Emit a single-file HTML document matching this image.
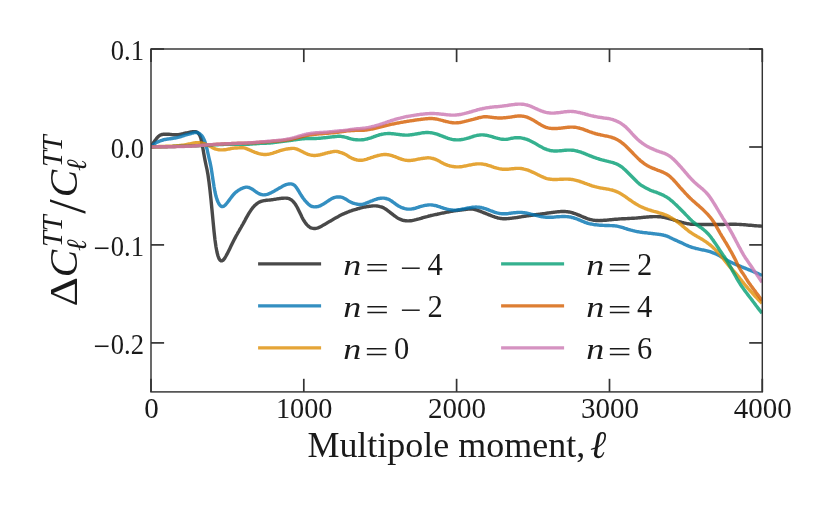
<!DOCTYPE html>
<html lang="en"><head><meta charset="utf-8"><title>Plot</title>
<style>
html,body{margin:0;padding:0;background:#fff;}
svg{display:block;}
text{font-family:"Liberation Serif","DejaVu Serif",serif;fill:#1a1a1a;}
.it{font-style:italic;}
</style></head><body>
<svg width="830" height="510" viewBox="0 0 830 510">
<rect x="0" y="0" width="830" height="510" fill="#ffffff"/>
<g stroke="#333333" stroke-width="1.7" fill="none" stroke-linecap="butt">
<line x1="151.0" y1="391.9" x2="151.0" y2="378.79999999999995"/>
<line x1="151.0" y1="49.0" x2="151.0" y2="62.1"/>
<line x1="303.8" y1="391.9" x2="303.8" y2="378.79999999999995"/>
<line x1="303.8" y1="49.0" x2="303.8" y2="62.1"/>
<line x1="456.6" y1="391.9" x2="456.6" y2="378.79999999999995"/>
<line x1="456.6" y1="49.0" x2="456.6" y2="62.1"/>
<line x1="609.5" y1="391.9" x2="609.5" y2="378.79999999999995"/>
<line x1="609.5" y1="49.0" x2="609.5" y2="62.1"/>
<line x1="762.3" y1="391.9" x2="762.3" y2="378.79999999999995"/>
<line x1="762.3" y1="49.0" x2="762.3" y2="62.1"/>
<line x1="151.0" y1="49.0" x2="164.1" y2="49.0"/>
<line x1="762.3" y1="49.0" x2="749.1999999999999" y2="49.0"/>
<line x1="151.0" y1="147.0" x2="164.1" y2="147.0"/>
<line x1="762.3" y1="147.0" x2="749.1999999999999" y2="147.0"/>
<line x1="151.0" y1="244.9" x2="164.1" y2="244.9"/>
<line x1="762.3" y1="244.9" x2="749.1999999999999" y2="244.9"/>
<line x1="151.0" y1="342.9" x2="164.1" y2="342.9"/>
<line x1="762.3" y1="342.9" x2="749.1999999999999" y2="342.9"/>
</g>
<defs><clipPath id="ax"><rect x="151.0" y="49.0" width="611.3" height="342.9"/></clipPath></defs>
<g clip-path="url(#ax)" fill="none" stroke-opacity="0.8" stroke-linejoin="round" stroke-linecap="butt">
<path d="M151.0,146.9 L152.0,145.0 L153.0,143.4 L154.0,141.9 L155.0,140.5 L156.0,139.2 L157.0,137.9 L158.0,136.8 L159.0,135.9 L160.0,135.3 L161.0,134.8 L162.0,134.5 L163.0,134.3 L164.0,134.2 L165.0,134.2 L166.0,134.2 L167.0,134.2 L168.0,134.3 L169.0,134.3 L170.0,134.4 L171.0,134.5 L172.0,134.6 L173.0,134.7 L174.0,134.8 L175.0,134.8 L176.0,134.8 L177.0,134.7 L178.0,134.6 L179.0,134.5 L180.0,134.3 L181.0,134.1 L182.0,133.9 L183.0,133.7 L184.0,133.4 L185.0,133.2 L186.0,133.0 L187.0,132.8 L188.0,132.6 L189.0,132.4 L190.0,132.2 L191.0,132.0 L192.0,131.8 L193.0,131.7 L194.0,131.6 L195.0,131.6 L196.0,131.7 L197.0,132.2 L198.0,133.0 L199.0,134.2 L200.0,135.9 L201.0,138.8 L202.0,143.4 L203.0,149.0 L204.0,154.7 L205.0,160.1 L206.0,165.0 L207.0,169.5 L208.0,174.9 L209.0,182.0 L210.0,190.4 L211.0,199.8 L212.0,210.0 L213.0,220.7 L214.0,231.0 L215.0,240.0 L216.0,247.0 L217.0,252.3 L218.0,256.0 L219.0,258.6 L220.0,260.2 L221.0,260.9 L222.0,260.9 L223.0,260.3 L224.0,259.2 L225.0,257.7 L226.0,256.0 L227.0,254.2 L228.0,252.2 L229.0,250.2 L230.0,248.2 L231.0,246.1 L232.0,244.0 L233.0,242.0 L234.0,240.0 L235.0,238.1 L236.0,236.2 L237.0,234.5 L238.0,232.7 L239.0,231.0 L240.0,229.2 L241.0,227.5 L242.0,225.7 L243.0,224.0 L244.0,222.1 L245.0,220.3 L246.0,218.4 L247.0,216.6 L248.0,214.9 L249.0,213.2 L250.0,211.6 L251.0,210.1 L252.0,208.7 L253.0,207.4 L254.0,206.3 L255.0,205.3 L256.0,204.4 L257.0,203.6 L258.0,202.9 L259.0,202.3 L260.0,201.8 L261.0,201.4 L262.0,201.1 L263.0,200.8 L264.0,200.6 L265.0,200.5 L266.0,200.3 L267.0,200.2 L268.0,200.1 L269.0,200.1 L270.0,200.0 L271.0,199.9 L272.0,199.7 L273.0,199.6 L274.0,199.4 L275.0,199.3 L276.0,199.1 L277.0,198.9 L278.0,198.8 L279.0,198.6 L280.0,198.5 L281.0,198.4 L282.0,198.2 L283.0,198.2 L284.0,198.1 L285.0,198.1 L286.0,198.1 L287.0,198.2 L288.0,198.4 L289.0,198.7 L290.0,199.1 L291.0,199.7 L292.0,200.4 L293.0,201.4 L294.0,202.5 L295.0,203.8 L296.0,205.3 L297.0,207.0 L298.0,208.9 L299.0,211.0 L300.0,213.1 L301.0,215.1 L302.0,217.2 L303.0,219.1 L304.0,220.8 L305.0,222.3 L306.0,223.7 L307.0,224.9 L308.0,225.9 L309.0,226.7 L310.0,227.4 L311.0,227.9 L312.0,228.2 L313.0,228.4 L314.0,228.5 L315.0,228.5 L316.0,228.3 L317.0,228.1 L318.0,227.8 L319.0,227.4 L320.0,226.9 L321.0,226.4 L322.0,225.9 L323.0,225.3 L324.0,224.8 L325.0,224.2 L326.0,223.6 L327.0,223.0 L328.0,222.4 L329.0,221.8 L330.0,221.3 L331.0,220.7 L332.0,220.1 L333.0,219.5 L334.0,218.9 L335.0,218.3 L336.0,217.8 L337.0,217.2 L338.0,216.7 L339.0,216.1 L340.0,215.6 L341.0,215.1 L342.0,214.6 L343.0,214.1 L344.0,213.7 L345.0,213.2 L346.0,212.8 L347.0,212.4 L348.0,212.0 L349.0,211.6 L350.0,211.2 L351.0,210.9 L352.0,210.5 L353.0,210.2 L354.0,209.9 L355.0,209.6 L356.0,209.3 L357.0,209.0 L358.0,208.7 L359.0,208.5 L360.0,208.2 L361.0,207.9 L362.0,207.7 L363.0,207.4 L364.0,207.2 L365.0,207.0 L366.0,206.8 L367.0,206.6 L368.0,206.5 L369.0,206.3 L370.0,206.2 L371.0,206.1 L372.0,206.0 L373.0,205.9 L374.0,205.9 L375.0,205.9 L376.0,205.9 L377.0,206.0 L378.0,206.1 L379.0,206.3 L380.0,206.6 L381.0,206.8 L382.0,207.2 L383.0,207.6 L384.0,208.1 L385.0,208.7 L386.0,209.3 L387.0,210.0 L388.0,210.8 L389.0,211.5 L390.0,212.3 L391.0,213.1 L392.0,213.9 L393.0,214.7 L394.0,215.5 L395.0,216.2 L396.0,216.9 L397.0,217.6 L398.0,218.2 L399.0,218.7 L400.0,219.2 L401.0,219.6 L402.0,220.0 L403.0,220.3 L404.0,220.5 L405.0,220.7 L406.0,220.8 L407.0,220.9 L408.0,220.9 L409.0,220.9 L410.0,220.8 L411.0,220.7 L412.0,220.6 L413.0,220.4 L414.0,220.2 L415.0,219.9 L416.0,219.7 L417.0,219.4 L418.0,219.1 L419.0,218.9 L420.0,218.6 L421.0,218.3 L422.0,218.0 L423.0,217.7 L424.0,217.4 L425.0,217.1 L426.0,216.8 L427.0,216.6 L428.0,216.3 L429.0,216.0 L430.0,215.8 L431.0,215.5 L432.0,215.3 L433.0,215.1 L434.0,214.9 L435.0,214.7 L436.0,214.5 L437.0,214.3 L438.0,214.0 L439.0,213.8 L440.0,213.6 L441.0,213.4 L442.0,213.2 L443.0,213.0 L444.0,212.8 L445.0,212.6 L446.0,212.4 L447.0,212.2 L448.0,212.0 L449.0,211.8 L450.0,211.6 L451.0,211.4 L452.0,211.2 L453.0,211.1 L454.0,210.9 L455.0,210.7 L456.0,210.6 L457.0,210.5 L458.0,210.3 L459.0,210.2 L460.0,210.1 L461.0,210.0 L462.0,209.8 L463.0,209.7 L464.0,209.6 L465.0,209.5 L466.0,209.3 L467.0,209.2 L468.0,209.1 L469.0,209.0 L470.0,209.0 L471.0,209.0 L472.0,209.0 L473.0,209.1 L474.0,209.3 L475.0,209.5 L476.0,209.8 L477.0,210.1 L478.0,210.5 L479.0,210.8 L480.0,211.2 L481.0,211.6 L482.0,212.0 L483.0,212.4 L484.0,212.8 L485.0,213.2 L486.0,213.6 L487.0,214.0 L488.0,214.4 L489.0,214.8 L490.0,215.2 L491.0,215.6 L492.0,216.0 L493.0,216.4 L494.0,216.7 L495.0,217.1 L496.0,217.4 L497.0,217.7 L498.0,218.0 L499.0,218.2 L500.0,218.4 L501.0,218.5 L502.0,218.6 L503.0,218.7 L504.0,218.7 L505.0,218.7 L506.0,218.7 L507.0,218.6 L508.0,218.6 L509.0,218.5 L510.0,218.4 L511.0,218.3 L512.0,218.1 L513.0,218.0 L514.0,217.9 L515.0,217.8 L516.0,217.6 L517.0,217.5 L518.0,217.3 L519.0,217.2 L520.0,217.0 L521.0,216.9 L522.0,216.7 L523.0,216.5 L524.0,216.4 L525.0,216.2 L526.0,216.1 L527.0,215.9 L528.0,215.8 L529.0,215.6 L530.0,215.5 L531.0,215.3 L532.0,215.2 L533.0,215.1 L534.0,214.9 L535.0,214.8 L536.0,214.7 L537.0,214.5 L538.0,214.4 L539.0,214.3 L540.0,214.1 L541.0,214.0 L542.0,213.9 L543.0,213.7 L544.0,213.6 L545.0,213.5 L546.0,213.3 L547.0,213.2 L548.0,213.0 L549.0,212.9 L550.0,212.8 L551.0,212.6 L552.0,212.5 L553.0,212.4 L554.0,212.2 L555.0,212.1 L556.0,212.0 L557.0,211.9 L558.0,211.8 L559.0,211.7 L560.0,211.6 L561.0,211.5 L562.0,211.5 L563.0,211.5 L564.0,211.5 L565.0,211.5 L566.0,211.6 L567.0,211.7 L568.0,211.8 L569.0,212.0 L570.0,212.2 L571.0,212.4 L572.0,212.7 L573.0,213.0 L574.0,213.3 L575.0,213.6 L576.0,214.0 L577.0,214.4 L578.0,214.8 L579.0,215.2 L580.0,215.6 L581.0,216.0 L582.0,216.5 L583.0,216.9 L584.0,217.3 L585.0,217.7 L586.0,218.1 L587.0,218.5 L588.0,218.9 L589.0,219.2 L590.0,219.5 L591.0,219.7 L592.0,219.9 L593.0,220.1 L594.0,220.3 L595.0,220.4 L596.0,220.5 L597.0,220.5 L598.0,220.5 L599.0,220.6 L600.0,220.5 L601.0,220.5 L602.0,220.5 L603.0,220.4 L604.0,220.3 L605.0,220.3 L606.0,220.2 L607.0,220.1 L608.0,220.0 L609.0,219.9 L610.0,219.8 L611.0,219.7 L612.0,219.6 L613.0,219.5 L614.0,219.4 L615.0,219.3 L616.0,219.2 L617.0,219.2 L618.0,219.1 L619.0,219.0 L620.0,218.9 L621.0,218.9 L622.0,218.8 L623.0,218.8 L624.0,218.7 L625.0,218.7 L626.0,218.6 L627.0,218.6 L628.0,218.5 L629.0,218.5 L630.0,218.4 L631.0,218.4 L632.0,218.3 L633.0,218.3 L634.0,218.2 L635.0,218.1 L636.0,218.1 L637.0,218.0 L638.0,217.9 L639.0,217.8 L640.0,217.7 L641.0,217.6 L642.0,217.5 L643.0,217.4 L644.0,217.3 L645.0,217.2 L646.0,217.1 L647.0,217.0 L648.0,217.0 L649.0,216.9 L650.0,216.8 L651.0,216.7 L652.0,216.7 L653.0,216.6 L654.0,216.6 L655.0,216.6 L656.0,216.6 L657.0,216.6 L658.0,216.7 L659.0,216.7 L660.0,216.8 L661.0,216.9 L662.0,217.1 L663.0,217.2 L664.0,217.4 L665.0,217.6 L666.0,217.8 L667.0,218.1 L668.0,218.3 L669.0,218.6 L670.0,218.9 L671.0,219.1 L672.0,219.4 L673.0,219.7 L674.0,220.0 L675.0,220.4 L676.0,220.7 L677.0,221.0 L678.0,221.3 L679.0,221.6 L680.0,221.9 L681.0,222.2 L682.0,222.5 L683.0,222.7 L684.0,223.0 L685.0,223.2 L686.0,223.4 L687.0,223.6 L688.0,223.8 L689.0,223.9 L690.0,224.1 L691.0,224.2 L692.0,224.3 L693.0,224.3 L694.0,224.4 L695.0,224.4 L696.0,224.5 L697.0,224.5 L698.0,224.5 L699.0,224.5 L700.0,224.5 L701.0,224.5 L702.0,224.5 L703.0,224.5 L704.0,224.5 L705.0,224.5 L706.0,224.5 L707.0,224.5 L708.0,224.5 L709.0,224.5 L710.0,224.5 L711.0,224.5 L712.0,224.5 L713.0,224.5 L714.0,224.5 L715.0,224.5 L716.0,224.5 L717.0,224.5 L718.0,224.5 L719.0,224.5 L720.0,224.5 L721.0,224.5 L722.0,224.5 L723.0,224.5 L724.0,224.4 L725.0,224.4 L726.0,224.4 L727.0,224.4 L728.0,224.4 L729.0,224.4 L730.0,224.3 L731.0,224.3 L732.0,224.3 L733.0,224.3 L734.0,224.3 L735.0,224.3 L736.0,224.3 L737.0,224.4 L738.0,224.4 L739.0,224.4 L740.0,224.5 L741.0,224.5 L742.0,224.6 L743.0,224.6 L744.0,224.7 L745.0,224.8 L746.0,224.9 L747.0,225.0 L748.0,225.1 L749.0,225.2 L750.0,225.2 L751.0,225.3 L752.0,225.4 L753.0,225.5 L754.0,225.6 L755.0,225.7 L756.0,225.8 L757.0,225.9 L758.0,225.9 L759.0,226.0 L760.0,226.0 L761.0,226.1 L762.0,226.1" stroke="#1c1c1c" stroke-width="3.4"/>
<path d="M151.0,146.9 L152.0,145.9 L153.0,145.0 L154.0,144.2 L155.0,143.5 L156.0,142.9 L157.0,142.3 L158.0,141.8 L159.0,141.4 L160.0,141.0 L161.0,140.6 L162.0,140.3 L163.0,140.0 L164.0,139.7 L165.0,139.5 L166.0,139.3 L167.0,139.2 L168.0,139.0 L169.0,138.9 L170.0,138.8 L171.0,138.7 L172.0,138.5 L173.0,138.4 L174.0,138.2 L175.0,138.0 L176.0,137.8 L177.0,137.6 L178.0,137.3 L179.0,137.1 L180.0,136.8 L181.0,136.5 L182.0,136.2 L183.0,135.8 L184.0,135.5 L185.0,135.2 L186.0,134.9 L187.0,134.6 L188.0,134.3 L189.0,134.1 L190.0,133.8 L191.0,133.5 L192.0,133.2 L193.0,133.0 L194.0,132.7 L195.0,132.5 L196.0,132.4 L197.0,132.5 L198.0,132.8 L199.0,133.3 L200.0,134.0 L201.0,134.9 L202.0,136.0 L203.0,137.5 L204.0,139.5 L205.0,142.0 L206.0,145.2 L207.0,149.0 L208.0,153.5 L209.0,158.0 L210.0,162.2 L211.0,167.0 L212.0,173.2 L213.0,180.0 L214.0,186.5 L215.0,192.0 L216.0,196.3 L217.0,199.5 L218.0,202.0 L219.0,203.9 L220.0,205.3 L221.0,206.2 L222.0,206.6 L223.0,206.5 L224.0,206.1 L225.0,205.2 L226.0,204.2 L227.0,203.0 L228.0,201.7 L229.0,200.4 L230.0,199.0 L231.0,197.7 L232.0,196.4 L233.0,195.1 L234.0,194.0 L235.0,193.0 L236.0,192.1 L237.0,191.3 L238.0,190.6 L239.0,189.9 L240.0,189.4 L241.0,188.8 L242.0,188.4 L243.0,187.9 L244.0,187.6 L245.0,187.3 L246.0,187.1 L247.0,187.1 L248.0,187.3 L249.0,187.5 L250.0,188.0 L251.0,188.5 L252.0,189.0 L253.0,189.7 L254.0,190.4 L255.0,191.1 L256.0,191.8 L257.0,192.5 L258.0,193.1 L259.0,193.7 L260.0,194.1 L261.0,194.5 L262.0,194.7 L263.0,194.9 L264.0,194.9 L265.0,194.8 L266.0,194.6 L267.0,194.4 L268.0,194.1 L269.0,193.7 L270.0,193.2 L271.0,192.8 L272.0,192.3 L273.0,191.7 L274.0,191.2 L275.0,190.6 L276.0,190.1 L277.0,189.5 L278.0,188.9 L279.0,188.3 L280.0,187.7 L281.0,187.2 L282.0,186.6 L283.0,186.1 L284.0,185.6 L285.0,185.1 L286.0,184.7 L287.0,184.4 L288.0,184.2 L289.0,184.0 L290.0,183.9 L291.0,183.9 L292.0,184.1 L293.0,184.4 L294.0,184.9 L295.0,185.8 L296.0,187.0 L297.0,188.4 L298.0,190.0 L299.0,191.6 L300.0,193.3 L301.0,195.0 L302.0,196.5 L303.0,198.0 L304.0,199.3 L305.0,200.6 L306.0,201.7 L307.0,202.8 L308.0,203.8 L309.0,204.7 L310.0,205.5 L311.0,206.1 L312.0,206.5 L313.0,206.7 L314.0,206.9 L315.0,206.9 L316.0,206.8 L317.0,206.7 L318.0,206.5 L319.0,206.2 L320.0,205.8 L321.0,205.4 L322.0,204.8 L323.0,204.3 L324.0,203.6 L325.0,203.0 L326.0,202.3 L327.0,201.6 L328.0,201.0 L329.0,200.3 L330.0,199.7 L331.0,199.1 L332.0,198.6 L333.0,198.1 L334.0,197.7 L335.0,197.4 L336.0,197.2 L337.0,197.0 L338.0,197.0 L339.0,197.0 L340.0,197.0 L341.0,197.2 L342.0,197.4 L343.0,197.7 L344.0,198.2 L345.0,198.7 L346.0,199.3 L347.0,199.9 L348.0,200.6 L349.0,201.2 L350.0,201.7 L351.0,202.2 L352.0,202.7 L353.0,203.1 L354.0,203.4 L355.0,203.7 L356.0,203.9 L357.0,204.2 L358.0,204.3 L359.0,204.5 L360.0,204.5 L361.0,204.5 L362.0,204.4 L363.0,204.2 L364.0,203.9 L365.0,203.6 L366.0,203.2 L367.0,202.8 L368.0,202.4 L369.0,202.0 L370.0,201.6 L371.0,201.1 L372.0,200.8 L373.0,200.4 L374.0,200.0 L375.0,199.6 L376.0,199.3 L377.0,199.0 L378.0,198.7 L379.0,198.5 L380.0,198.3 L381.0,198.2 L382.0,198.1 L383.0,198.1 L384.0,198.1 L385.0,198.3 L386.0,198.5 L387.0,198.8 L388.0,199.1 L389.0,199.6 L390.0,200.1 L391.0,200.7 L392.0,201.3 L393.0,202.1 L394.0,202.8 L395.0,203.5 L396.0,204.3 L397.0,205.0 L398.0,205.7 L399.0,206.3 L400.0,206.8 L401.0,207.3 L402.0,207.7 L403.0,208.0 L404.0,208.3 L405.0,208.6 L406.0,208.8 L407.0,209.0 L408.0,209.1 L409.0,209.1 L410.0,209.1 L411.0,209.1 L412.0,208.9 L413.0,208.8 L414.0,208.5 L415.0,208.3 L416.0,208.0 L417.0,207.6 L418.0,207.3 L419.0,207.0 L420.0,206.7 L421.0,206.4 L422.0,206.1 L423.0,205.9 L424.0,205.6 L425.0,205.4 L426.0,205.3 L427.0,205.1 L428.0,205.0 L429.0,204.9 L430.0,204.9 L431.0,204.9 L432.0,205.0 L433.0,205.1 L434.0,205.3 L435.0,205.5 L436.0,205.7 L437.0,206.0 L438.0,206.3 L439.0,206.6 L440.0,206.9 L441.0,207.3 L442.0,207.6 L443.0,208.0 L444.0,208.3 L445.0,208.6 L446.0,208.9 L447.0,209.2 L448.0,209.4 L449.0,209.6 L450.0,209.8 L451.0,209.9 L452.0,210.0 L453.0,210.1 L454.0,210.1 L455.0,210.1 L456.0,210.1 L457.0,210.0 L458.0,209.9 L459.0,209.7 L460.0,209.6 L461.0,209.4 L462.0,209.2 L463.0,209.0 L464.0,208.8 L465.0,208.6 L466.0,208.4 L467.0,208.2 L468.0,208.0 L469.0,207.8 L470.0,207.6 L471.0,207.5 L472.0,207.3 L473.0,207.2 L474.0,207.1 L475.0,207.1 L476.0,207.0 L477.0,207.1 L478.0,207.1 L479.0,207.2 L480.0,207.4 L481.0,207.5 L482.0,207.8 L483.0,208.0 L484.0,208.3 L485.0,208.6 L486.0,208.9 L487.0,209.3 L488.0,209.7 L489.0,210.1 L490.0,210.5 L491.0,210.9 L492.0,211.2 L493.0,211.6 L494.0,212.0 L495.0,212.3 L496.0,212.6 L497.0,212.9 L498.0,213.1 L499.0,213.3 L500.0,213.5 L501.0,213.6 L502.0,213.7 L503.0,213.8 L504.0,213.8 L505.0,213.8 L506.0,213.8 L507.0,213.7 L508.0,213.6 L509.0,213.4 L510.0,213.3 L511.0,213.2 L512.0,213.0 L513.0,212.9 L514.0,212.8 L515.0,212.7 L516.0,212.6 L517.0,212.5 L518.0,212.4 L519.0,212.4 L520.0,212.4 L521.0,212.4 L522.0,212.5 L523.0,212.6 L524.0,212.7 L525.0,212.8 L526.0,213.0 L527.0,213.2 L528.0,213.4 L529.0,213.6 L530.0,213.8 L531.0,214.1 L532.0,214.3 L533.0,214.6 L534.0,214.9 L535.0,215.1 L536.0,215.4 L537.0,215.7 L538.0,215.9 L539.0,216.1 L540.0,216.4 L541.0,216.6 L542.0,216.7 L543.0,216.9 L544.0,217.0 L545.0,217.1 L546.0,217.2 L547.0,217.3 L548.0,217.3 L549.0,217.3 L550.0,217.3 L551.0,217.3 L552.0,217.2 L553.0,217.2 L554.0,217.1 L555.0,217.0 L556.0,216.9 L557.0,216.8 L558.0,216.8 L559.0,216.7 L560.0,216.6 L561.0,216.6 L562.0,216.5 L563.0,216.5 L564.0,216.5 L565.0,216.5 L566.0,216.6 L567.0,216.6 L568.0,216.7 L569.0,216.9 L570.0,217.0 L571.0,217.2 L572.0,217.5 L573.0,217.7 L574.0,218.0 L575.0,218.3 L576.0,218.6 L577.0,219.0 L578.0,219.4 L579.0,219.8 L580.0,220.2 L581.0,220.7 L582.0,221.1 L583.0,221.5 L584.0,221.9 L585.0,222.3 L586.0,222.7 L587.0,223.0 L588.0,223.3 L589.0,223.6 L590.0,223.8 L591.0,224.0 L592.0,224.2 L593.0,224.4 L594.0,224.6 L595.0,224.7 L596.0,224.8 L597.0,224.9 L598.0,225.0 L599.0,225.1 L600.0,225.2 L601.0,225.3 L602.0,225.3 L603.0,225.4 L604.0,225.4 L605.0,225.5 L606.0,225.5 L607.0,225.5 L608.0,225.5 L609.0,225.5 L610.0,225.6 L611.0,225.6 L612.0,225.6 L613.0,225.7 L614.0,225.8 L615.0,225.9 L616.0,226.0 L617.0,226.2 L618.0,226.4 L619.0,226.6 L620.0,226.8 L621.0,227.1 L622.0,227.4 L623.0,227.7 L624.0,228.0 L625.0,228.4 L626.0,228.7 L627.0,229.0 L628.0,229.3 L629.0,229.6 L630.0,229.9 L631.0,230.2 L632.0,230.4 L633.0,230.7 L634.0,230.9 L635.0,231.2 L636.0,231.4 L637.0,231.6 L638.0,231.7 L639.0,231.9 L640.0,232.1 L641.0,232.2 L642.0,232.3 L643.0,232.5 L644.0,232.6 L645.0,232.7 L646.0,232.8 L647.0,232.9 L648.0,233.1 L649.0,233.2 L650.0,233.3 L651.0,233.4 L652.0,233.5 L653.0,233.7 L654.0,233.8 L655.0,233.9 L656.0,234.0 L657.0,234.1 L658.0,234.2 L659.0,234.4 L660.0,234.5 L661.0,234.7 L662.0,234.8 L663.0,235.0 L664.0,235.3 L665.0,235.5 L666.0,235.8 L667.0,236.2 L668.0,236.6 L669.0,237.1 L670.0,237.6 L671.0,238.0 L672.0,238.5 L673.0,239.0 L674.0,239.4 L675.0,239.9 L676.0,240.3 L677.0,240.8 L678.0,241.3 L679.0,241.7 L680.0,242.2 L681.0,242.6 L682.0,243.1 L683.0,243.6 L684.0,244.1 L685.0,244.5 L686.0,245.0 L687.0,245.4 L688.0,245.8 L689.0,246.3 L690.0,246.6 L691.0,247.0 L692.0,247.3 L693.0,247.7 L694.0,247.9 L695.0,248.2 L696.0,248.5 L697.0,248.7 L698.0,248.9 L699.0,249.2 L700.0,249.4 L701.0,249.6 L702.0,249.8 L703.0,250.0 L704.0,250.2 L705.0,250.4 L706.0,250.6 L707.0,250.8 L708.0,251.1 L709.0,251.4 L710.0,251.7 L711.0,252.0 L712.0,252.4 L713.0,252.8 L714.0,253.2 L715.0,253.6 L716.0,254.1 L717.0,254.6 L718.0,255.1 L719.0,255.6 L720.0,256.1 L721.0,256.7 L722.0,257.2 L723.0,257.8 L724.0,258.4 L725.0,258.9 L726.0,259.5 L727.0,260.1 L728.0,260.7 L729.0,261.2 L730.0,261.7 L731.0,262.3 L732.0,262.7 L733.0,263.2 L734.0,263.7 L735.0,264.1 L736.0,264.6 L737.0,265.0 L738.0,265.4 L739.0,265.8 L740.0,266.2 L741.0,266.6 L742.0,267.0 L743.0,267.4 L744.0,267.8 L745.0,268.2 L746.0,268.6 L747.0,269.0 L748.0,269.4 L749.0,269.8 L750.0,270.2 L751.0,270.6 L752.0,271.0 L753.0,271.5 L754.0,271.9 L755.0,272.3 L756.0,272.7 L757.0,273.2 L758.0,273.6 L759.0,274.1 L760.0,274.5 L761.0,275.0 L762.0,275.5" stroke="#0173B2" stroke-width="3.4"/>
<path d="M151.0,146.9 L152.0,146.8 L153.0,146.8 L154.0,146.7 L155.0,146.7 L156.0,146.6 L157.0,146.6 L158.0,146.6 L159.0,146.5 L160.0,146.5 L161.0,146.5 L162.0,146.4 L163.0,146.4 L164.0,146.4 L165.0,146.4 L166.0,146.3 L167.0,146.3 L168.0,146.3 L169.0,146.2 L170.0,146.2 L171.0,146.2 L172.0,146.1 L173.0,146.1 L174.0,146.0 L175.0,145.9 L176.0,145.9 L177.0,145.8 L178.0,145.7 L179.0,145.6 L180.0,145.5 L181.0,145.4 L182.0,145.2 L183.0,145.1 L184.0,145.0 L185.0,144.8 L186.0,144.6 L187.0,144.4 L188.0,144.2 L189.0,144.0 L190.0,143.8 L191.0,143.6 L192.0,143.4 L193.0,143.2 L194.0,143.0 L195.0,142.8 L196.0,142.7 L197.0,142.6 L198.0,142.6 L199.0,142.7 L200.0,142.8 L201.0,143.0 L202.0,143.2 L203.0,143.4 L204.0,143.7 L205.0,144.0 L206.0,144.4 L207.0,144.8 L208.0,145.3 L209.0,145.8 L210.0,146.3 L211.0,146.8 L212.0,147.4 L213.0,147.9 L214.0,148.4 L215.0,148.8 L216.0,149.2 L217.0,149.4 L218.0,149.6 L219.0,149.8 L220.0,149.9 L221.0,149.9 L222.0,149.9 L223.0,149.9 L224.0,149.8 L225.0,149.7 L226.0,149.6 L227.0,149.4 L228.0,149.2 L229.0,149.0 L230.0,148.8 L231.0,148.5 L232.0,148.4 L233.0,148.2 L234.0,148.1 L235.0,148.0 L236.0,148.0 L237.0,148.0 L238.0,147.9 L239.0,147.9 L240.0,147.8 L241.0,147.8 L242.0,147.8 L243.0,147.8 L244.0,147.9 L245.0,148.2 L246.0,148.5 L247.0,148.9 L248.0,149.3 L249.0,149.7 L250.0,150.2 L251.0,150.6 L252.0,151.1 L253.0,151.5 L254.0,151.9 L255.0,152.3 L256.0,152.6 L257.0,153.0 L258.0,153.3 L259.0,153.6 L260.0,153.8 L261.0,154.1 L262.0,154.2 L263.0,154.4 L264.0,154.5 L265.0,154.5 L266.0,154.5 L267.0,154.4 L268.0,154.3 L269.0,154.1 L270.0,153.9 L271.0,153.6 L272.0,153.4 L273.0,153.1 L274.0,152.7 L275.0,152.4 L276.0,152.1 L277.0,151.7 L278.0,151.4 L279.0,151.0 L280.0,150.7 L281.0,150.4 L282.0,150.1 L283.0,149.8 L284.0,149.6 L285.0,149.4 L286.0,149.2 L287.0,149.0 L288.0,148.8 L289.0,148.7 L290.0,148.6 L291.0,148.5 L292.0,148.4 L293.0,148.4 L294.0,148.4 L295.0,148.6 L296.0,148.8 L297.0,149.2 L298.0,149.6 L299.0,150.0 L300.0,150.5 L301.0,151.1 L302.0,151.6 L303.0,152.1 L304.0,152.6 L305.0,153.0 L306.0,153.5 L307.0,153.9 L308.0,154.3 L309.0,154.6 L310.0,154.9 L311.0,155.1 L312.0,155.3 L313.0,155.4 L314.0,155.5 L315.0,155.5 L316.0,155.4 L317.0,155.3 L318.0,155.2 L319.0,155.0 L320.0,154.8 L321.0,154.5 L322.0,154.3 L323.0,154.0 L324.0,153.8 L325.0,153.5 L326.0,153.2 L327.0,153.0 L328.0,152.7 L329.0,152.5 L330.0,152.3 L331.0,152.0 L332.0,151.8 L333.0,151.6 L334.0,151.5 L335.0,151.4 L336.0,151.4 L337.0,151.5 L338.0,151.7 L339.0,152.0 L340.0,152.3 L341.0,152.6 L342.0,152.9 L343.0,153.3 L344.0,153.7 L345.0,154.2 L346.0,154.7 L347.0,155.4 L348.0,156.0 L349.0,156.7 L350.0,157.3 L351.0,157.8 L352.0,158.3 L353.0,158.7 L354.0,159.1 L355.0,159.5 L356.0,159.7 L357.0,160.0 L358.0,160.1 L359.0,160.3 L360.0,160.3 L361.0,160.3 L362.0,160.2 L363.0,160.1 L364.0,159.9 L365.0,159.6 L366.0,159.4 L367.0,159.1 L368.0,158.7 L369.0,158.4 L370.0,158.1 L371.0,157.7 L372.0,157.4 L373.0,157.1 L374.0,156.7 L375.0,156.4 L376.0,156.1 L377.0,155.8 L378.0,155.5 L379.0,155.3 L380.0,155.1 L381.0,154.9 L382.0,154.7 L383.0,154.6 L384.0,154.5 L385.0,154.5 L386.0,154.5 L387.0,154.6 L388.0,154.7 L389.0,154.9 L390.0,155.1 L391.0,155.4 L392.0,155.7 L393.0,156.0 L394.0,156.4 L395.0,156.7 L396.0,157.1 L397.0,157.5 L398.0,157.9 L399.0,158.3 L400.0,158.7 L401.0,159.0 L402.0,159.3 L403.0,159.6 L404.0,159.9 L405.0,160.1 L406.0,160.3 L407.0,160.4 L408.0,160.5 L409.0,160.5 L410.0,160.5 L411.0,160.4 L412.0,160.3 L413.0,160.2 L414.0,160.0 L415.0,159.8 L416.0,159.6 L417.0,159.4 L418.0,159.2 L419.0,159.0 L420.0,158.9 L421.0,158.7 L422.0,158.5 L423.0,158.3 L424.0,158.2 L425.0,158.1 L426.0,158.0 L427.0,157.9 L428.0,157.8 L429.0,157.9 L430.0,157.9 L431.0,158.1 L432.0,158.3 L433.0,158.5 L434.0,158.8 L435.0,159.2 L436.0,159.6 L437.0,160.0 L438.0,160.5 L439.0,161.1 L440.0,161.6 L441.0,162.2 L442.0,162.7 L443.0,163.3 L444.0,163.8 L445.0,164.2 L446.0,164.7 L447.0,165.0 L448.0,165.4 L449.0,165.7 L450.0,166.0 L451.0,166.2 L452.0,166.4 L453.0,166.5 L454.0,166.7 L455.0,166.8 L456.0,166.9 L457.0,166.9 L458.0,166.9 L459.0,166.9 L460.0,166.8 L461.0,166.7 L462.0,166.6 L463.0,166.4 L464.0,166.2 L465.0,166.0 L466.0,165.8 L467.0,165.6 L468.0,165.4 L469.0,165.2 L470.0,165.0 L471.0,164.8 L472.0,164.6 L473.0,164.4 L474.0,164.3 L475.0,164.1 L476.0,164.0 L477.0,163.9 L478.0,163.9 L479.0,163.9 L480.0,163.9 L481.0,163.9 L482.0,164.0 L483.0,164.1 L484.0,164.3 L485.0,164.5 L486.0,164.7 L487.0,165.0 L488.0,165.3 L489.0,165.6 L490.0,165.9 L491.0,166.2 L492.0,166.6 L493.0,166.9 L494.0,167.3 L495.0,167.6 L496.0,167.9 L497.0,168.2 L498.0,168.4 L499.0,168.7 L500.0,168.9 L501.0,169.0 L502.0,169.2 L503.0,169.3 L504.0,169.3 L505.0,169.3 L506.0,169.3 L507.0,169.2 L508.0,169.2 L509.0,169.1 L510.0,169.0 L511.0,168.9 L512.0,168.8 L513.0,168.7 L514.0,168.6 L515.0,168.5 L516.0,168.4 L517.0,168.4 L518.0,168.4 L519.0,168.4 L520.0,168.4 L521.0,168.5 L522.0,168.7 L523.0,168.8 L524.0,169.1 L525.0,169.3 L526.0,169.6 L527.0,169.9 L528.0,170.2 L529.0,170.6 L530.0,171.0 L531.0,171.4 L532.0,171.9 L533.0,172.3 L534.0,172.8 L535.0,173.3 L536.0,173.8 L537.0,174.3 L538.0,174.8 L539.0,175.2 L540.0,175.7 L541.0,176.2 L542.0,176.7 L543.0,177.1 L544.0,177.6 L545.0,177.9 L546.0,178.3 L547.0,178.6 L548.0,178.8 L549.0,179.0 L550.0,179.2 L551.0,179.3 L552.0,179.4 L553.0,179.5 L554.0,179.5 L555.0,179.5 L556.0,179.5 L557.0,179.5 L558.0,179.4 L559.0,179.4 L560.0,179.3 L561.0,179.3 L562.0,179.2 L563.0,179.2 L564.0,179.1 L565.0,179.1 L566.0,179.1 L567.0,179.1 L568.0,179.1 L569.0,179.2 L570.0,179.3 L571.0,179.4 L572.0,179.5 L573.0,179.7 L574.0,179.9 L575.0,180.1 L576.0,180.3 L577.0,180.6 L578.0,180.9 L579.0,181.2 L580.0,181.5 L581.0,181.8 L582.0,182.2 L583.0,182.5 L584.0,182.9 L585.0,183.3 L586.0,183.6 L587.0,184.0 L588.0,184.4 L589.0,184.7 L590.0,185.1 L591.0,185.4 L592.0,185.8 L593.0,186.1 L594.0,186.4 L595.0,186.7 L596.0,186.9 L597.0,187.2 L598.0,187.4 L599.0,187.6 L600.0,187.8 L601.0,188.0 L602.0,188.1 L603.0,188.3 L604.0,188.5 L605.0,188.6 L606.0,188.8 L607.0,189.0 L608.0,189.1 L609.0,189.3 L610.0,189.6 L611.0,189.8 L612.0,190.0 L613.0,190.3 L614.0,190.7 L615.0,191.0 L616.0,191.4 L617.0,191.8 L618.0,192.3 L619.0,192.8 L620.0,193.3 L621.0,193.9 L622.0,194.5 L623.0,195.1 L624.0,195.8 L625.0,196.4 L626.0,197.1 L627.0,197.9 L628.0,198.6 L629.0,199.3 L630.0,200.0 L631.0,200.7 L632.0,201.4 L633.0,202.1 L634.0,202.7 L635.0,203.3 L636.0,204.0 L637.0,204.5 L638.0,205.1 L639.0,205.7 L640.0,206.2 L641.0,206.7 L642.0,207.2 L643.0,207.6 L644.0,208.0 L645.0,208.5 L646.0,208.8 L647.0,209.2 L648.0,209.6 L649.0,209.9 L650.0,210.2 L651.0,210.5 L652.0,210.8 L653.0,211.1 L654.0,211.4 L655.0,211.6 L656.0,211.9 L657.0,212.2 L658.0,212.5 L659.0,212.8 L660.0,213.1 L661.0,213.4 L662.0,213.7 L663.0,214.0 L664.0,214.4 L665.0,214.8 L666.0,215.2 L667.0,215.6 L668.0,216.1 L669.0,216.6 L670.0,217.1 L671.0,217.7 L672.0,218.3 L673.0,218.9 L674.0,219.5 L675.0,220.2 L676.0,220.9 L677.0,221.6 L678.0,222.4 L679.0,223.1 L680.0,223.9 L681.0,224.7 L682.0,225.6 L683.0,226.4 L684.0,227.2 L685.0,228.1 L686.0,228.9 L687.0,229.7 L688.0,230.5 L689.0,231.3 L690.0,232.0 L691.0,232.7 L692.0,233.4 L693.0,234.0 L694.0,234.6 L695.0,235.2 L696.0,235.8 L697.0,236.4 L698.0,236.9 L699.0,237.5 L700.0,238.1 L701.0,238.7 L702.0,239.3 L703.0,239.9 L704.0,240.6 L705.0,241.2 L706.0,241.9 L707.0,242.6 L708.0,243.4 L709.0,244.1 L710.0,244.9 L711.0,245.7 L712.0,246.6 L713.0,247.5 L714.0,248.4 L715.0,249.4 L716.0,250.3 L717.0,251.4 L718.0,252.4 L719.0,253.5 L720.0,254.7 L721.0,255.9 L722.0,257.1 L723.0,258.3 L724.0,259.6 L725.0,260.9 L726.0,262.2 L727.0,263.4 L728.0,264.7 L729.0,265.9 L730.0,267.0 L731.0,268.1 L732.0,269.2 L733.0,270.3 L734.0,271.4 L735.0,272.5 L736.0,273.7 L737.0,274.9 L738.0,276.1 L739.0,277.3 L740.0,278.6 L741.0,279.8 L742.0,281.1 L743.0,282.3 L744.0,283.6 L745.0,284.8 L746.0,286.0 L747.0,287.1 L748.0,288.3 L749.0,289.4 L750.0,290.5 L751.0,291.6 L752.0,292.7 L753.0,293.8 L754.0,294.9 L755.0,296.0 L756.0,297.1 L757.0,298.1 L758.0,299.2 L759.0,300.2 L760.0,301.3 L761.0,302.2 L762.0,303.2" stroke="#DE8F05" stroke-width="3.4"/>
<path d="M151.0,147.0 L152.0,147.0 L153.0,147.0 L154.0,146.9 L155.0,146.9 L156.0,146.9 L157.0,146.9 L158.0,146.9 L159.0,146.8 L160.0,146.8 L161.0,146.8 L162.0,146.8 L163.0,146.8 L164.0,146.7 L165.0,146.7 L166.0,146.7 L167.0,146.7 L168.0,146.6 L169.0,146.6 L170.0,146.6 L171.0,146.6 L172.0,146.6 L173.0,146.5 L174.0,146.5 L175.0,146.5 L176.0,146.4 L177.0,146.4 L178.0,146.4 L179.0,146.4 L180.0,146.3 L181.0,146.3 L182.0,146.3 L183.0,146.2 L184.0,146.2 L185.0,146.2 L186.0,146.1 L187.0,146.1 L188.0,146.1 L189.0,146.0 L190.0,146.0 L191.0,146.0 L192.0,145.9 L193.0,145.9 L194.0,145.8 L195.0,145.8 L196.0,145.8 L197.0,145.7 L198.0,145.7 L199.0,145.6 L200.0,145.6 L201.0,145.5 L202.0,145.5 L203.0,145.4 L204.0,145.4 L205.0,145.4 L206.0,145.3 L207.0,145.3 L208.0,145.2 L209.0,145.2 L210.0,145.1 L211.0,145.0 L212.0,145.0 L213.0,144.9 L214.0,144.9 L215.0,144.8 L216.0,144.8 L217.0,144.7 L218.0,144.7 L219.0,144.6 L220.0,144.6 L221.0,144.5 L222.0,144.5 L223.0,144.5 L224.0,144.4 L225.0,144.4 L226.0,144.4 L227.0,144.3 L228.0,144.3 L229.0,144.3 L230.0,144.3 L231.0,144.3 L232.0,144.3 L233.0,144.3 L234.0,144.3 L235.0,144.3 L236.0,144.3 L237.0,144.3 L238.0,144.3 L239.0,144.3 L240.0,144.3 L241.0,144.3 L242.0,144.3 L243.0,144.3 L244.0,144.3 L245.0,144.3 L246.0,144.3 L247.0,144.3 L248.0,144.2 L249.0,144.2 L250.0,144.1 L251.0,144.1 L252.0,144.0 L253.0,143.9 L254.0,143.9 L255.0,143.8 L256.0,143.7 L257.0,143.6 L258.0,143.5 L259.0,143.5 L260.0,143.4 L261.0,143.4 L262.0,143.3 L263.0,143.3 L264.0,143.3 L265.0,143.2 L266.0,143.2 L267.0,143.1 L268.0,143.1 L269.0,143.0 L270.0,143.0 L271.0,142.9 L272.0,142.8 L273.0,142.7 L274.0,142.5 L275.0,142.4 L276.0,142.3 L277.0,142.1 L278.0,142.0 L279.0,141.9 L280.0,141.7 L281.0,141.6 L282.0,141.5 L283.0,141.4 L284.0,141.2 L285.0,141.1 L286.0,141.0 L287.0,140.9 L288.0,140.7 L289.0,140.6 L290.0,140.5 L291.0,140.3 L292.0,140.2 L293.0,140.1 L294.0,139.9 L295.0,139.8 L296.0,139.7 L297.0,139.5 L298.0,139.4 L299.0,139.3 L300.0,139.1 L301.0,139.0 L302.0,138.9 L303.0,138.8 L304.0,138.7 L305.0,138.6 L306.0,138.5 L307.0,138.5 L308.0,138.5 L309.0,138.5 L310.0,138.5 L311.0,138.5 L312.0,138.5 L313.0,138.5 L314.0,138.5 L315.0,138.5 L316.0,138.5 L317.0,138.4 L318.0,138.4 L319.0,138.3 L320.0,138.2 L321.0,138.1 L322.0,138.0 L323.0,137.9 L324.0,137.8 L325.0,137.7 L326.0,137.6 L327.0,137.5 L328.0,137.4 L329.0,137.2 L330.0,137.1 L331.0,137.0 L332.0,136.9 L333.0,136.8 L334.0,136.7 L335.0,136.6 L336.0,136.5 L337.0,136.4 L338.0,136.3 L339.0,136.3 L340.0,136.3 L341.0,136.4 L342.0,136.6 L343.0,136.7 L344.0,136.9 L345.0,137.2 L346.0,137.4 L347.0,137.7 L348.0,138.0 L349.0,138.3 L350.0,138.6 L351.0,138.9 L352.0,139.1 L353.0,139.3 L354.0,139.5 L355.0,139.6 L356.0,139.7 L357.0,139.8 L358.0,139.9 L359.0,139.9 L360.0,139.9 L361.0,139.9 L362.0,139.8 L363.0,139.7 L364.0,139.6 L365.0,139.4 L366.0,139.2 L367.0,139.0 L368.0,138.7 L369.0,138.4 L370.0,138.1 L371.0,137.8 L372.0,137.4 L373.0,137.1 L374.0,136.7 L375.0,136.3 L376.0,136.0 L377.0,135.6 L378.0,135.3 L379.0,135.0 L380.0,134.7 L381.0,134.5 L382.0,134.2 L383.0,134.1 L384.0,133.9 L385.0,133.7 L386.0,133.6 L387.0,133.6 L388.0,133.5 L389.0,133.5 L390.0,133.5 L391.0,133.6 L392.0,133.7 L393.0,133.8 L394.0,133.9 L395.0,134.0 L396.0,134.1 L397.0,134.3 L398.0,134.4 L399.0,134.5 L400.0,134.7 L401.0,134.8 L402.0,134.9 L403.0,135.0 L404.0,135.0 L405.0,135.1 L406.0,135.1 L407.0,135.1 L408.0,135.1 L409.0,135.0 L410.0,134.9 L411.0,134.8 L412.0,134.7 L413.0,134.5 L414.0,134.4 L415.0,134.2 L416.0,134.0 L417.0,133.8 L418.0,133.7 L419.0,133.5 L420.0,133.3 L421.0,133.1 L422.0,132.9 L423.0,132.8 L424.0,132.7 L425.0,132.6 L426.0,132.5 L427.0,132.5 L428.0,132.5 L429.0,132.6 L430.0,132.6 L431.0,132.8 L432.0,132.9 L433.0,133.1 L434.0,133.3 L435.0,133.6 L436.0,133.9 L437.0,134.2 L438.0,134.5 L439.0,134.9 L440.0,135.3 L441.0,135.7 L442.0,136.0 L443.0,136.4 L444.0,136.8 L445.0,137.2 L446.0,137.6 L447.0,137.9 L448.0,138.3 L449.0,138.6 L450.0,138.9 L451.0,139.1 L452.0,139.4 L453.0,139.6 L454.0,139.7 L455.0,139.8 L456.0,139.9 L457.0,139.9 L458.0,139.9 L459.0,139.9 L460.0,139.8 L461.0,139.7 L462.0,139.5 L463.0,139.4 L464.0,139.2 L465.0,138.9 L466.0,138.7 L467.0,138.4 L468.0,138.1 L469.0,137.8 L470.0,137.5 L471.0,137.2 L472.0,136.8 L473.0,136.5 L474.0,136.2 L475.0,135.9 L476.0,135.7 L477.0,135.4 L478.0,135.2 L479.0,135.1 L480.0,135.0 L481.0,134.9 L482.0,134.9 L483.0,134.9 L484.0,135.0 L485.0,135.1 L486.0,135.2 L487.0,135.4 L488.0,135.6 L489.0,135.9 L490.0,136.1 L491.0,136.4 L492.0,136.7 L493.0,137.0 L494.0,137.3 L495.0,137.6 L496.0,137.9 L497.0,138.1 L498.0,138.4 L499.0,138.6 L500.0,138.9 L501.0,139.1 L502.0,139.2 L503.0,139.3 L504.0,139.4 L505.0,139.4 L506.0,139.4 L507.0,139.3 L508.0,139.1 L509.0,138.9 L510.0,138.7 L511.0,138.4 L512.0,138.2 L513.0,138.1 L514.0,137.9 L515.0,137.8 L516.0,137.8 L517.0,137.7 L518.0,137.7 L519.0,137.8 L520.0,137.8 L521.0,137.9 L522.0,138.1 L523.0,138.3 L524.0,138.5 L525.0,138.8 L526.0,139.1 L527.0,139.4 L528.0,139.8 L529.0,140.2 L530.0,140.7 L531.0,141.2 L532.0,141.7 L533.0,142.2 L534.0,142.8 L535.0,143.3 L536.0,143.9 L537.0,144.5 L538.0,145.1 L539.0,145.7 L540.0,146.2 L541.0,146.8 L542.0,147.3 L543.0,147.9 L544.0,148.4 L545.0,148.8 L546.0,149.2 L547.0,149.6 L548.0,149.9 L549.0,150.2 L550.0,150.5 L551.0,150.7 L552.0,150.8 L553.0,150.9 L554.0,151.0 L555.0,151.0 L556.0,151.0 L557.0,151.0 L558.0,150.9 L559.0,150.9 L560.0,150.8 L561.0,150.7 L562.0,150.6 L563.0,150.5 L564.0,150.4 L565.0,150.3 L566.0,150.2 L567.0,150.1 L568.0,150.1 L569.0,150.1 L570.0,150.1 L571.0,150.1 L572.0,150.2 L573.0,150.3 L574.0,150.4 L575.0,150.6 L576.0,150.8 L577.0,151.0 L578.0,151.3 L579.0,151.6 L580.0,151.9 L581.0,152.2 L582.0,152.6 L583.0,152.9 L584.0,153.3 L585.0,153.7 L586.0,154.2 L587.0,154.6 L588.0,155.0 L589.0,155.4 L590.0,155.8 L591.0,156.2 L592.0,156.6 L593.0,157.0 L594.0,157.3 L595.0,157.7 L596.0,158.0 L597.0,158.4 L598.0,158.7 L599.0,159.0 L600.0,159.3 L601.0,159.6 L602.0,159.9 L603.0,160.1 L604.0,160.4 L605.0,160.7 L606.0,160.9 L607.0,161.2 L608.0,161.4 L609.0,161.7 L610.0,161.9 L611.0,162.2 L612.0,162.4 L613.0,162.7 L614.0,163.0 L615.0,163.4 L616.0,163.7 L617.0,164.2 L618.0,164.6 L619.0,165.2 L620.0,165.8 L621.0,166.5 L622.0,167.2 L623.0,168.0 L624.0,168.9 L625.0,169.8 L626.0,170.8 L627.0,171.8 L628.0,172.8 L629.0,173.8 L630.0,174.8 L631.0,175.8 L632.0,176.8 L633.0,177.8 L634.0,178.8 L635.0,179.8 L636.0,180.8 L637.0,181.8 L638.0,182.7 L639.0,183.6 L640.0,184.4 L641.0,185.1 L642.0,185.8 L643.0,186.3 L644.0,186.9 L645.0,187.5 L646.0,188.0 L647.0,188.6 L648.0,189.1 L649.0,189.6 L650.0,190.1 L651.0,190.5 L652.0,190.9 L653.0,191.2 L654.0,191.6 L655.0,191.9 L656.0,192.2 L657.0,192.6 L658.0,193.0 L659.0,193.4 L660.0,193.8 L661.0,194.2 L662.0,194.7 L663.0,195.1 L664.0,195.6 L665.0,196.2 L666.0,196.7 L667.0,197.4 L668.0,198.0 L669.0,198.7 L670.0,199.5 L671.0,200.3 L672.0,201.1 L673.0,202.0 L674.0,202.9 L675.0,203.9 L676.0,204.8 L677.0,205.8 L678.0,206.8 L679.0,207.7 L680.0,208.7 L681.0,209.7 L682.0,210.7 L683.0,211.7 L684.0,212.8 L685.0,213.8 L686.0,214.9 L687.0,215.9 L688.0,216.9 L689.0,218.0 L690.0,219.0 L691.0,219.9 L692.0,220.9 L693.0,221.8 L694.0,222.6 L695.0,223.4 L696.0,224.1 L697.0,224.9 L698.0,225.6 L699.0,226.3 L700.0,227.0 L701.0,227.7 L702.0,228.4 L703.0,229.2 L704.0,230.0 L705.0,230.8 L706.0,231.7 L707.0,232.7 L708.0,233.7 L709.0,234.8 L710.0,236.0 L711.0,237.3 L712.0,238.7 L713.0,240.0 L714.0,241.5 L715.0,242.9 L716.0,244.4 L717.0,245.9 L718.0,247.4 L719.0,249.0 L720.0,250.5 L721.0,251.9 L722.0,253.4 L723.0,254.9 L724.0,256.3 L725.0,257.8 L726.0,259.4 L727.0,261.0 L728.0,262.7 L729.0,264.4 L730.0,266.1 L731.0,267.9 L732.0,269.8 L733.0,271.6 L734.0,273.4 L735.0,275.2 L736.0,277.0 L737.0,278.8 L738.0,280.5 L739.0,282.1 L740.0,283.7 L741.0,285.2 L742.0,286.7 L743.0,288.1 L744.0,289.5 L745.0,290.9 L746.0,292.2 L747.0,293.5 L748.0,294.9 L749.0,296.2 L750.0,297.5 L751.0,298.8 L752.0,300.1 L753.0,301.5 L754.0,302.8 L755.0,304.1 L756.0,305.5 L757.0,306.8 L758.0,308.1 L759.0,309.4 L760.0,310.7 L761.0,311.9 L762.0,313.2" stroke="#029E73" stroke-width="3.4"/>
<path d="M151.0,147.0 L152.0,147.0 L153.0,146.9 L154.0,146.9 L155.0,146.9 L156.0,146.9 L157.0,146.9 L158.0,146.8 L159.0,146.8 L160.0,146.8 L161.0,146.8 L162.0,146.8 L163.0,146.7 L164.0,146.7 L165.0,146.7 L166.0,146.7 L167.0,146.7 L168.0,146.6 L169.0,146.6 L170.0,146.6 L171.0,146.6 L172.0,146.6 L173.0,146.5 L174.0,146.5 L175.0,146.5 L176.0,146.5 L177.0,146.4 L178.0,146.4 L179.0,146.4 L180.0,146.4 L181.0,146.3 L182.0,146.3 L183.0,146.3 L184.0,146.2 L185.0,146.2 L186.0,146.2 L187.0,146.1 L188.0,146.1 L189.0,146.0 L190.0,146.0 L191.0,146.0 L192.0,145.9 L193.0,145.9 L194.0,145.8 L195.0,145.7 L196.0,145.7 L197.0,145.6 L198.0,145.6 L199.0,145.5 L200.0,145.5 L201.0,145.4 L202.0,145.3 L203.0,145.3 L204.0,145.2 L205.0,145.1 L206.0,145.1 L207.0,145.0 L208.0,144.9 L209.0,144.9 L210.0,144.8 L211.0,144.7 L212.0,144.7 L213.0,144.6 L214.0,144.5 L215.0,144.5 L216.0,144.4 L217.0,144.3 L218.0,144.3 L219.0,144.2 L220.0,144.1 L221.0,144.1 L222.0,144.0 L223.0,144.0 L224.0,143.9 L225.0,143.8 L226.0,143.8 L227.0,143.7 L228.0,143.7 L229.0,143.6 L230.0,143.6 L231.0,143.6 L232.0,143.5 L233.0,143.5 L234.0,143.5 L235.0,143.4 L236.0,143.4 L237.0,143.4 L238.0,143.3 L239.0,143.3 L240.0,143.3 L241.0,143.3 L242.0,143.2 L243.0,143.2 L244.0,143.2 L245.0,143.1 L246.0,143.1 L247.0,143.1 L248.0,143.0 L249.0,143.0 L250.0,142.9 L251.0,142.9 L252.0,142.8 L253.0,142.8 L254.0,142.7 L255.0,142.7 L256.0,142.6 L257.0,142.5 L258.0,142.5 L259.0,142.4 L260.0,142.3 L261.0,142.2 L262.0,142.2 L263.0,142.1 L264.0,142.0 L265.0,141.9 L266.0,141.9 L267.0,141.8 L268.0,141.7 L269.0,141.6 L270.0,141.6 L271.0,141.5 L272.0,141.4 L273.0,141.3 L274.0,141.3 L275.0,141.2 L276.0,141.1 L277.0,141.0 L278.0,141.0 L279.0,140.9 L280.0,140.8 L281.0,140.7 L282.0,140.6 L283.0,140.5 L284.0,140.3 L285.0,140.2 L286.0,140.1 L287.0,139.9 L288.0,139.8 L289.0,139.6 L290.0,139.5 L291.0,139.3 L292.0,139.1 L293.0,138.9 L294.0,138.7 L295.0,138.4 L296.0,138.2 L297.0,137.9 L298.0,137.7 L299.0,137.4 L300.0,137.1 L301.0,136.9 L302.0,136.6 L303.0,136.4 L304.0,136.1 L305.0,135.9 L306.0,135.6 L307.0,135.4 L308.0,135.2 L309.0,135.1 L310.0,134.9 L311.0,134.8 L312.0,134.6 L313.0,134.5 L314.0,134.4 L315.0,134.3 L316.0,134.2 L317.0,134.1 L318.0,134.0 L319.0,133.9 L320.0,133.8 L321.0,133.7 L322.0,133.7 L323.0,133.6 L324.0,133.5 L325.0,133.4 L326.0,133.4 L327.0,133.3 L328.0,133.2 L329.0,133.1 L330.0,133.0 L331.0,132.9 L332.0,132.9 L333.0,132.8 L334.0,132.7 L335.0,132.6 L336.0,132.4 L337.0,132.3 L338.0,132.2 L339.0,132.1 L340.0,131.9 L341.0,131.8 L342.0,131.6 L343.0,131.5 L344.0,131.3 L345.0,131.2 L346.0,131.1 L347.0,130.9 L348.0,130.8 L349.0,130.7 L350.0,130.7 L351.0,130.6 L352.0,130.5 L353.0,130.5 L354.0,130.5 L355.0,130.4 L356.0,130.4 L357.0,130.4 L358.0,130.4 L359.0,130.4 L360.0,130.3 L361.0,130.3 L362.0,130.3 L363.0,130.2 L364.0,130.2 L365.0,130.1 L366.0,130.0 L367.0,129.8 L368.0,129.7 L369.0,129.5 L370.0,129.4 L371.0,129.2 L372.0,129.0 L373.0,128.8 L374.0,128.5 L375.0,128.3 L376.0,128.1 L377.0,127.8 L378.0,127.6 L379.0,127.3 L380.0,127.1 L381.0,126.8 L382.0,126.6 L383.0,126.3 L384.0,126.0 L385.0,125.8 L386.0,125.5 L387.0,125.3 L388.0,125.1 L389.0,124.8 L390.0,124.6 L391.0,124.4 L392.0,124.2 L393.0,124.0 L394.0,123.8 L395.0,123.6 L396.0,123.4 L397.0,123.2 L398.0,123.0 L399.0,122.8 L400.0,122.6 L401.0,122.4 L402.0,122.3 L403.0,122.1 L404.0,121.9 L405.0,121.7 L406.0,121.6 L407.0,121.4 L408.0,121.2 L409.0,121.1 L410.0,120.9 L411.0,120.8 L412.0,120.6 L413.0,120.5 L414.0,120.3 L415.0,120.2 L416.0,120.0 L417.0,119.9 L418.0,119.7 L419.0,119.6 L420.0,119.5 L421.0,119.3 L422.0,119.2 L423.0,119.1 L424.0,119.0 L425.0,118.9 L426.0,118.8 L427.0,118.7 L428.0,118.6 L429.0,118.5 L430.0,118.5 L431.0,118.5 L432.0,118.5 L433.0,118.6 L434.0,118.7 L435.0,118.8 L436.0,119.0 L437.0,119.2 L438.0,119.4 L439.0,119.7 L440.0,119.9 L441.0,120.2 L442.0,120.4 L443.0,120.7 L444.0,121.0 L445.0,121.2 L446.0,121.5 L447.0,121.7 L448.0,121.9 L449.0,122.2 L450.0,122.4 L451.0,122.5 L452.0,122.7 L453.0,122.8 L454.0,122.9 L455.0,122.9 L456.0,122.9 L457.0,122.8 L458.0,122.8 L459.0,122.6 L460.0,122.5 L461.0,122.3 L462.0,122.1 L463.0,121.9 L464.0,121.7 L465.0,121.4 L466.0,121.2 L467.0,120.9 L468.0,120.7 L469.0,120.4 L470.0,120.2 L471.0,119.9 L472.0,119.6 L473.0,119.4 L474.0,119.1 L475.0,118.8 L476.0,118.5 L477.0,118.3 L478.0,118.0 L479.0,117.7 L480.0,117.5 L481.0,117.3 L482.0,117.1 L483.0,116.9 L484.0,116.8 L485.0,116.8 L486.0,116.8 L487.0,116.8 L488.0,116.9 L489.0,117.0 L490.0,117.1 L491.0,117.2 L492.0,117.4 L493.0,117.5 L494.0,117.6 L495.0,117.7 L496.0,117.8 L497.0,117.9 L498.0,118.0 L499.0,118.0 L500.0,118.0 L501.0,118.0 L502.0,118.0 L503.0,117.9 L504.0,117.8 L505.0,117.8 L506.0,117.6 L507.0,117.5 L508.0,117.4 L509.0,117.3 L510.0,117.1 L511.0,117.0 L512.0,116.8 L513.0,116.6 L514.0,116.5 L515.0,116.3 L516.0,116.2 L517.0,116.1 L518.0,116.0 L519.0,116.0 L520.0,116.0 L521.0,116.0 L522.0,116.1 L523.0,116.2 L524.0,116.4 L525.0,116.6 L526.0,116.9 L527.0,117.2 L528.0,117.6 L529.0,118.0 L530.0,118.5 L531.0,119.0 L532.0,119.5 L533.0,120.1 L534.0,120.6 L535.0,121.2 L536.0,121.8 L537.0,122.5 L538.0,123.1 L539.0,123.7 L540.0,124.3 L541.0,124.9 L542.0,125.4 L543.0,125.9 L544.0,126.4 L545.0,126.9 L546.0,127.3 L547.0,127.6 L548.0,127.9 L549.0,128.1 L550.0,128.3 L551.0,128.4 L552.0,128.5 L553.0,128.5 L554.0,128.5 L555.0,128.5 L556.0,128.5 L557.0,128.5 L558.0,128.4 L559.0,128.3 L560.0,128.2 L561.0,128.1 L562.0,128.0 L563.0,127.9 L564.0,127.7 L565.0,127.6 L566.0,127.5 L567.0,127.4 L568.0,127.3 L569.0,127.2 L570.0,127.1 L571.0,127.1 L572.0,127.1 L573.0,127.1 L574.0,127.2 L575.0,127.3 L576.0,127.4 L577.0,127.6 L578.0,127.8 L579.0,128.0 L580.0,128.3 L581.0,128.6 L582.0,128.9 L583.0,129.2 L584.0,129.6 L585.0,130.0 L586.0,130.3 L587.0,130.7 L588.0,131.1 L589.0,131.5 L590.0,131.9 L591.0,132.2 L592.0,132.5 L593.0,132.9 L594.0,133.2 L595.0,133.5 L596.0,133.8 L597.0,134.0 L598.0,134.3 L599.0,134.5 L600.0,134.7 L601.0,135.0 L602.0,135.2 L603.0,135.4 L604.0,135.6 L605.0,135.8 L606.0,136.0 L607.0,136.2 L608.0,136.4 L609.0,136.7 L610.0,136.9 L611.0,137.2 L612.0,137.5 L613.0,137.8 L614.0,138.2 L615.0,138.6 L616.0,139.1 L617.0,139.5 L618.0,140.1 L619.0,140.7 L620.0,141.3 L621.0,142.0 L622.0,142.8 L623.0,143.6 L624.0,144.4 L625.0,145.3 L626.0,146.2 L627.0,147.2 L628.0,148.2 L629.0,149.2 L630.0,150.2 L631.0,151.2 L632.0,152.3 L633.0,153.3 L634.0,154.4 L635.0,155.4 L636.0,156.4 L637.0,157.4 L638.0,158.4 L639.0,159.3 L640.0,160.3 L641.0,161.1 L642.0,161.9 L643.0,162.7 L644.0,163.5 L645.0,164.1 L646.0,164.8 L647.0,165.4 L648.0,165.9 L649.0,166.5 L650.0,167.0 L651.0,167.4 L652.0,167.9 L653.0,168.3 L654.0,168.7 L655.0,169.1 L656.0,169.5 L657.0,169.9 L658.0,170.3 L659.0,170.6 L660.0,171.0 L661.0,171.4 L662.0,171.8 L663.0,172.2 L664.0,172.7 L665.0,173.2 L666.0,173.7 L667.0,174.3 L668.0,175.0 L669.0,175.7 L670.0,176.6 L671.0,177.5 L672.0,178.4 L673.0,179.4 L674.0,180.5 L675.0,181.6 L676.0,182.7 L677.0,183.8 L678.0,185.0 L679.0,186.1 L680.0,187.3 L681.0,188.4 L682.0,189.5 L683.0,190.6 L684.0,191.7 L685.0,192.8 L686.0,193.9 L687.0,194.9 L688.0,196.0 L689.0,197.0 L690.0,198.0 L691.0,198.9 L692.0,199.9 L693.0,200.8 L694.0,201.7 L695.0,202.5 L696.0,203.4 L697.0,204.3 L698.0,205.1 L699.0,206.0 L700.0,206.9 L701.0,207.8 L702.0,208.7 L703.0,209.6 L704.0,210.6 L705.0,211.6 L706.0,212.6 L707.0,213.6 L708.0,214.7 L709.0,215.8 L710.0,217.0 L711.0,218.2 L712.0,219.5 L713.0,220.9 L714.0,222.4 L715.0,224.0 L716.0,225.7 L717.0,227.6 L718.0,229.4 L719.0,231.2 L720.0,233.0 L721.0,234.7 L722.0,236.4 L723.0,238.0 L724.0,239.6 L725.0,241.3 L726.0,242.9 L727.0,244.6 L728.0,246.3 L729.0,248.0 L730.0,249.8 L731.0,251.5 L732.0,253.3 L733.0,255.2 L734.0,257.1 L735.0,259.1 L736.0,261.1 L737.0,263.2 L738.0,265.2 L739.0,267.1 L740.0,269.0 L741.0,270.7 L742.0,272.2 L743.0,273.6 L744.0,275.1 L745.0,276.6 L746.0,278.3 L747.0,279.9 L748.0,281.5 L749.0,282.9 L750.0,284.3 L751.0,285.7 L752.0,287.0 L753.0,288.4 L754.0,289.8 L755.0,291.1 L756.0,292.5 L757.0,293.8 L758.0,295.1 L759.0,296.5 L760.0,297.8 L761.0,299.1 L762.0,300.5" stroke="#D55E00" stroke-width="3.4"/>
<path d="M151.0,147.0 L152.0,147.0 L153.0,146.9 L154.0,146.9 L155.0,146.9 L156.0,146.9 L157.0,146.8 L158.0,146.8 L159.0,146.8 L160.0,146.8 L161.0,146.8 L162.0,146.8 L163.0,146.8 L164.0,146.7 L165.0,146.7 L166.0,146.7 L167.0,146.7 L168.0,146.7 L169.0,146.7 L170.0,146.7 L171.0,146.7 L172.0,146.7 L173.0,146.7 L174.0,146.7 L175.0,146.6 L176.0,146.6 L177.0,146.6 L178.0,146.6 L179.0,146.6 L180.0,146.6 L181.0,146.5 L182.0,146.5 L183.0,146.5 L184.0,146.5 L185.0,146.4 L186.0,146.4 L187.0,146.3 L188.0,146.3 L189.0,146.3 L190.0,146.2 L191.0,146.1 L192.0,146.1 L193.0,146.0 L194.0,146.0 L195.0,145.9 L196.0,145.8 L197.0,145.7 L198.0,145.7 L199.0,145.6 L200.0,145.5 L201.0,145.4 L202.0,145.3 L203.0,145.3 L204.0,145.2 L205.0,145.1 L206.0,145.0 L207.0,144.9 L208.0,144.8 L209.0,144.8 L210.0,144.7 L211.0,144.6 L212.0,144.6 L213.0,144.5 L214.0,144.4 L215.0,144.4 L216.0,144.3 L217.0,144.3 L218.0,144.2 L219.0,144.2 L220.0,144.1 L221.0,144.0 L222.0,144.0 L223.0,143.9 L224.0,143.9 L225.0,143.9 L226.0,143.8 L227.0,143.8 L228.0,143.7 L229.0,143.7 L230.0,143.6 L231.0,143.6 L232.0,143.5 L233.0,143.5 L234.0,143.5 L235.0,143.4 L236.0,143.4 L237.0,143.3 L238.0,143.3 L239.0,143.3 L240.0,143.2 L241.0,143.2 L242.0,143.1 L243.0,143.1 L244.0,143.1 L245.0,143.0 L246.0,143.0 L247.0,142.9 L248.0,142.9 L249.0,142.8 L250.0,142.7 L251.0,142.7 L252.0,142.6 L253.0,142.6 L254.0,142.5 L255.0,142.4 L256.0,142.3 L257.0,142.3 L258.0,142.2 L259.0,142.1 L260.0,142.0 L261.0,141.9 L262.0,141.8 L263.0,141.8 L264.0,141.7 L265.0,141.6 L266.0,141.5 L267.0,141.4 L268.0,141.3 L269.0,141.2 L270.0,141.2 L271.0,141.1 L272.0,141.0 L273.0,140.9 L274.0,140.8 L275.0,140.7 L276.0,140.6 L277.0,140.5 L278.0,140.4 L279.0,140.3 L280.0,140.2 L281.0,140.1 L282.0,140.0 L283.0,139.9 L284.0,139.7 L285.0,139.6 L286.0,139.4 L287.0,139.2 L288.0,139.0 L289.0,138.8 L290.0,138.6 L291.0,138.4 L292.0,138.2 L293.0,137.9 L294.0,137.7 L295.0,137.4 L296.0,137.1 L297.0,136.8 L298.0,136.5 L299.0,136.2 L300.0,135.9 L301.0,135.6 L302.0,135.3 L303.0,135.0 L304.0,134.8 L305.0,134.5 L306.0,134.3 L307.0,134.0 L308.0,133.8 L309.0,133.6 L310.0,133.5 L311.0,133.3 L312.0,133.2 L313.0,133.1 L314.0,133.0 L315.0,132.9 L316.0,132.8 L317.0,132.7 L318.0,132.6 L319.0,132.6 L320.0,132.5 L321.0,132.5 L322.0,132.4 L323.0,132.4 L324.0,132.3 L325.0,132.2 L326.0,132.2 L327.0,132.1 L328.0,132.0 L329.0,131.9 L330.0,131.8 L331.0,131.7 L332.0,131.6 L333.0,131.5 L334.0,131.4 L335.0,131.3 L336.0,131.2 L337.0,131.1 L338.0,131.0 L339.0,130.9 L340.0,130.8 L341.0,130.7 L342.0,130.6 L343.0,130.6 L344.0,130.5 L345.0,130.4 L346.0,130.3 L347.0,130.1 L348.0,130.0 L349.0,129.8 L350.0,129.7 L351.0,129.5 L352.0,129.4 L353.0,129.3 L354.0,129.1 L355.0,129.0 L356.0,128.9 L357.0,128.8 L358.0,128.8 L359.0,128.7 L360.0,128.6 L361.0,128.5 L362.0,128.4 L363.0,128.3 L364.0,128.2 L365.0,128.1 L366.0,127.9 L367.0,127.8 L368.0,127.6 L369.0,127.4 L370.0,127.2 L371.0,127.0 L372.0,126.7 L373.0,126.5 L374.0,126.3 L375.0,126.0 L376.0,125.7 L377.0,125.4 L378.0,125.1 L379.0,124.8 L380.0,124.5 L381.0,124.1 L382.0,123.8 L383.0,123.5 L384.0,123.1 L385.0,122.8 L386.0,122.4 L387.0,122.1 L388.0,121.7 L389.0,121.4 L390.0,121.1 L391.0,120.7 L392.0,120.4 L393.0,120.1 L394.0,119.8 L395.0,119.5 L396.0,119.2 L397.0,118.9 L398.0,118.6 L399.0,118.3 L400.0,118.1 L401.0,117.8 L402.0,117.6 L403.0,117.4 L404.0,117.1 L405.0,116.9 L406.0,116.7 L407.0,116.5 L408.0,116.3 L409.0,116.1 L410.0,116.0 L411.0,115.8 L412.0,115.6 L413.0,115.5 L414.0,115.3 L415.0,115.1 L416.0,115.0 L417.0,114.8 L418.0,114.7 L419.0,114.6 L420.0,114.4 L421.0,114.3 L422.0,114.2 L423.0,114.1 L424.0,114.0 L425.0,113.9 L426.0,113.8 L427.0,113.7 L428.0,113.6 L429.0,113.6 L430.0,113.5 L431.0,113.5 L432.0,113.5 L433.0,113.5 L434.0,113.5 L435.0,113.6 L436.0,113.6 L437.0,113.7 L438.0,113.8 L439.0,113.9 L440.0,114.0 L441.0,114.1 L442.0,114.2 L443.0,114.3 L444.0,114.4 L445.0,114.5 L446.0,114.6 L447.0,114.8 L448.0,114.9 L449.0,114.9 L450.0,115.0 L451.0,115.1 L452.0,115.1 L453.0,115.1 L454.0,115.1 L455.0,115.1 L456.0,115.0 L457.0,114.9 L458.0,114.8 L459.0,114.7 L460.0,114.5 L461.0,114.3 L462.0,114.1 L463.0,113.9 L464.0,113.7 L465.0,113.4 L466.0,113.2 L467.0,112.9 L468.0,112.6 L469.0,112.3 L470.0,112.0 L471.0,111.8 L472.0,111.5 L473.0,111.2 L474.0,110.9 L475.0,110.6 L476.0,110.3 L477.0,110.0 L478.0,109.7 L479.0,109.5 L480.0,109.2 L481.0,109.0 L482.0,108.8 L483.0,108.5 L484.0,108.3 L485.0,108.1 L486.0,107.9 L487.0,107.8 L488.0,107.6 L489.0,107.5 L490.0,107.3 L491.0,107.2 L492.0,107.1 L493.0,107.0 L494.0,106.9 L495.0,106.8 L496.0,106.7 L497.0,106.7 L498.0,106.6 L499.0,106.5 L500.0,106.4 L501.0,106.3 L502.0,106.1 L503.0,106.0 L504.0,105.9 L505.0,105.7 L506.0,105.6 L507.0,105.5 L508.0,105.3 L509.0,105.2 L510.0,105.0 L511.0,104.9 L512.0,104.7 L513.0,104.6 L514.0,104.5 L515.0,104.3 L516.0,104.3 L517.0,104.2 L518.0,104.1 L519.0,104.1 L520.0,104.1 L521.0,104.1 L522.0,104.2 L523.0,104.3 L524.0,104.4 L525.0,104.6 L526.0,104.8 L527.0,105.0 L528.0,105.3 L529.0,105.6 L530.0,106.0 L531.0,106.4 L532.0,106.8 L533.0,107.3 L534.0,107.7 L535.0,108.2 L536.0,108.7 L537.0,109.1 L538.0,109.6 L539.0,110.0 L540.0,110.4 L541.0,110.8 L542.0,111.2 L543.0,111.5 L544.0,111.8 L545.0,112.1 L546.0,112.4 L547.0,112.6 L548.0,112.7 L549.0,112.9 L550.0,113.0 L551.0,113.1 L552.0,113.1 L553.0,113.1 L554.0,113.1 L555.0,113.0 L556.0,112.9 L557.0,112.8 L558.0,112.7 L559.0,112.6 L560.0,112.5 L561.0,112.3 L562.0,112.2 L563.0,112.1 L564.0,111.9 L565.0,111.8 L566.0,111.7 L567.0,111.6 L568.0,111.5 L569.0,111.5 L570.0,111.4 L571.0,111.4 L572.0,111.5 L573.0,111.5 L574.0,111.6 L575.0,111.7 L576.0,111.9 L577.0,112.1 L578.0,112.3 L579.0,112.5 L580.0,112.7 L581.0,113.0 L582.0,113.2 L583.0,113.5 L584.0,113.7 L585.0,114.0 L586.0,114.3 L587.0,114.5 L588.0,114.8 L589.0,115.1 L590.0,115.3 L591.0,115.6 L592.0,115.8 L593.0,116.0 L594.0,116.3 L595.0,116.5 L596.0,116.7 L597.0,116.9 L598.0,117.1 L599.0,117.2 L600.0,117.4 L601.0,117.5 L602.0,117.7 L603.0,117.8 L604.0,118.0 L605.0,118.1 L606.0,118.2 L607.0,118.4 L608.0,118.5 L609.0,118.7 L610.0,118.9 L611.0,119.2 L612.0,119.4 L613.0,119.7 L614.0,120.1 L615.0,120.4 L616.0,120.8 L617.0,121.3 L618.0,121.7 L619.0,122.3 L620.0,122.8 L621.0,123.4 L622.0,124.1 L623.0,124.8 L624.0,125.5 L625.0,126.4 L626.0,127.2 L627.0,128.2 L628.0,129.2 L629.0,130.2 L630.0,131.3 L631.0,132.4 L632.0,133.6 L633.0,134.7 L634.0,135.8 L635.0,136.8 L636.0,137.8 L637.0,138.8 L638.0,139.7 L639.0,140.6 L640.0,141.4 L641.0,142.2 L642.0,143.0 L643.0,143.7 L644.0,144.4 L645.0,145.0 L646.0,145.6 L647.0,146.2 L648.0,146.7 L649.0,147.3 L650.0,147.8 L651.0,148.2 L652.0,148.7 L653.0,149.1 L654.0,149.6 L655.0,150.0 L656.0,150.4 L657.0,150.8 L658.0,151.1 L659.0,151.5 L660.0,151.9 L661.0,152.2 L662.0,152.5 L663.0,152.9 L664.0,153.2 L665.0,153.6 L666.0,154.1 L667.0,154.5 L668.0,155.1 L669.0,155.7 L670.0,156.4 L671.0,157.1 L672.0,158.0 L673.0,158.8 L674.0,159.8 L675.0,160.8 L676.0,161.8 L677.0,162.8 L678.0,163.9 L679.0,165.0 L680.0,166.1 L681.0,167.2 L682.0,168.4 L683.0,169.5 L684.0,170.7 L685.0,171.9 L686.0,173.0 L687.0,174.2 L688.0,175.4 L689.0,176.5 L690.0,177.6 L691.0,178.7 L692.0,179.8 L693.0,180.8 L694.0,181.8 L695.0,182.7 L696.0,183.6 L697.0,184.4 L698.0,185.3 L699.0,186.1 L700.0,186.9 L701.0,187.8 L702.0,188.6 L703.0,189.5 L704.0,190.4 L705.0,191.4 L706.0,192.4 L707.0,193.5 L708.0,194.6 L709.0,195.9 L710.0,197.2 L711.0,198.7 L712.0,200.2 L713.0,201.8 L714.0,203.4 L715.0,205.0 L716.0,206.6 L717.0,208.3 L718.0,210.0 L719.0,211.7 L720.0,213.3 L721.0,215.0 L722.0,216.6 L723.0,218.3 L724.0,219.9 L725.0,221.5 L726.0,223.2 L727.0,224.8 L728.0,226.5 L729.0,228.1 L730.0,229.8 L731.0,231.6 L732.0,233.4 L733.0,235.2 L734.0,237.1 L735.0,238.9 L736.0,240.9 L737.0,242.8 L738.0,244.7 L739.0,246.6 L740.0,248.4 L741.0,250.3 L742.0,252.1 L743.0,253.9 L744.0,255.6 L745.0,257.2 L746.0,258.7 L747.0,260.1 L748.0,261.6 L749.0,263.1 L750.0,264.6 L751.0,266.0 L752.0,267.5 L753.0,269.0 L754.0,270.4 L755.0,271.9 L756.0,273.4 L757.0,274.9 L758.0,276.3 L759.0,277.8 L760.0,279.3 L761.0,280.8 L762.0,282.3" stroke="#CB77B2" stroke-width="3.4"/>
</g>
<rect x="151.0" y="49.0" width="611.3" height="342.9" fill="none" stroke="#333333" stroke-width="1.45" stroke-linejoin="miter"/>
<g font-size="29">
<text transform="translate(151.4,418.2) scale(1.0,1)" text-anchor="middle">0</text>
<text transform="translate(304.2,418.2) scale(0.975,1)" text-anchor="middle">1000</text>
<text transform="translate(457.0,418.2) scale(1.0,1)" text-anchor="middle">2000</text>
<text transform="translate(609.9,418.2) scale(1.0,1)" text-anchor="middle">3000</text>
<text transform="translate(762.7,418.2) scale(1.0,1)" text-anchor="middle">4000</text>
<text transform="translate(144.0,59.9) scale(0.915,1)" text-anchor="end">0.1</text>
<text transform="translate(144.0,157.9) scale(0.915,1)" text-anchor="end">0.0</text>
<text transform="translate(144.0,255.8) scale(0.915,1)" text-anchor="end"><tspan font-size="32" dy="3">−</tspan><tspan dy="-3" dx="1.3">0.1</tspan></text>
<text transform="translate(144.0,353.8) scale(0.915,1)" text-anchor="end"><tspan font-size="32" dy="3">−</tspan><tspan dy="-3" dx="1.3">0.2</tspan></text>
</g>
<text transform="translate(307.4,457.2) scale(1.028,1)" font-size="35">Multipole moment,</text>
<text class="it" x="590" y="457.6" font-size="39">ℓ</text>
<g transform="translate(77,306) rotate(-90)"><text transform="translate(-0.6,0) scale(1.13,1)" font-size="40.5">Δ</text><text class="it" x="28.8" y="0" font-size="41">C</text><text class="it" x="59" y="-14.6" font-size="28.5">TT</text><text class="it" x="55" y="8.5" font-size="28">ℓ</text><text class="it" x="108.8" y="0" font-size="41">C</text><text class="it" x="139" y="-14.6" font-size="28.5">TT</text><text class="it" x="135" y="8.5" font-size="28">ℓ</text><text x="92.3" y="8.2" font-size="52">/</text></g>
<g stroke-width="3.4" fill="none" stroke-opacity="0.8">
<line x1="258.1" y1="263.9" x2="321.1" y2="263.9" stroke="#1c1c1c"/>
<line x1="258.1" y1="305.9" x2="321.1" y2="305.9" stroke="#0173B2"/>
<line x1="258.1" y1="347.9" x2="321.1" y2="347.9" stroke="#DE8F05"/>
<line x1="501.1" y1="263.9" x2="564.1" y2="263.9" stroke="#029E73"/>
<line x1="501.1" y1="305.9" x2="564.1" y2="305.9" stroke="#D55E00"/>
<line x1="501.1" y1="347.9" x2="564.1" y2="347.9" stroke="#CB77B2"/>
</g>
<g text-anchor="middle">
<text class="it" transform="translate(352.2,275.0) scale(1.22,1)" font-size="29.5">n</text><text transform="translate(377.1,277.6) scale(1.4,1)" font-size="30">=</text><text transform="translate(411.0,277.6) scale(1.28,1)" font-size="30">−</text><text transform="translate(435.0,275.0) scale(1.0,1)" font-size="30.5">4</text>
<text class="it" transform="translate(352.2,317.0) scale(1.22,1)" font-size="29.5">n</text><text transform="translate(377.1,319.6) scale(1.4,1)" font-size="30">=</text><text transform="translate(411.0,319.6) scale(1.28,1)" font-size="30">−</text><text transform="translate(435.0,317.0) scale(1.0,1)" font-size="30.5">2</text>
<text class="it" transform="translate(352.2,359.0) scale(1.22,1)" font-size="29.5">n</text><text transform="translate(376.5,361.6) scale(1.4,1)" font-size="30">=</text><text transform="translate(401.5,359.0) scale(1.0,1)" font-size="30.5">0</text>
<text class="it" transform="translate(595.2,275.0) scale(1.22,1)" font-size="29.5">n</text><text transform="translate(619.5,277.6) scale(1.4,1)" font-size="30">=</text><text transform="translate(644.5,275.0) scale(1.0,1)" font-size="30.5">2</text>
<text class="it" transform="translate(595.2,317.0) scale(1.22,1)" font-size="29.5">n</text><text transform="translate(619.5,319.6) scale(1.4,1)" font-size="30">=</text><text transform="translate(644.5,317.0) scale(1.0,1)" font-size="30.5">4</text>
<text class="it" transform="translate(595.2,359.0) scale(1.22,1)" font-size="29.5">n</text><text transform="translate(619.5,361.6) scale(1.4,1)" font-size="30">=</text><text transform="translate(644.5,359.0) scale(1.0,1)" font-size="30.5">6</text>
</g>
</svg></body></html>
